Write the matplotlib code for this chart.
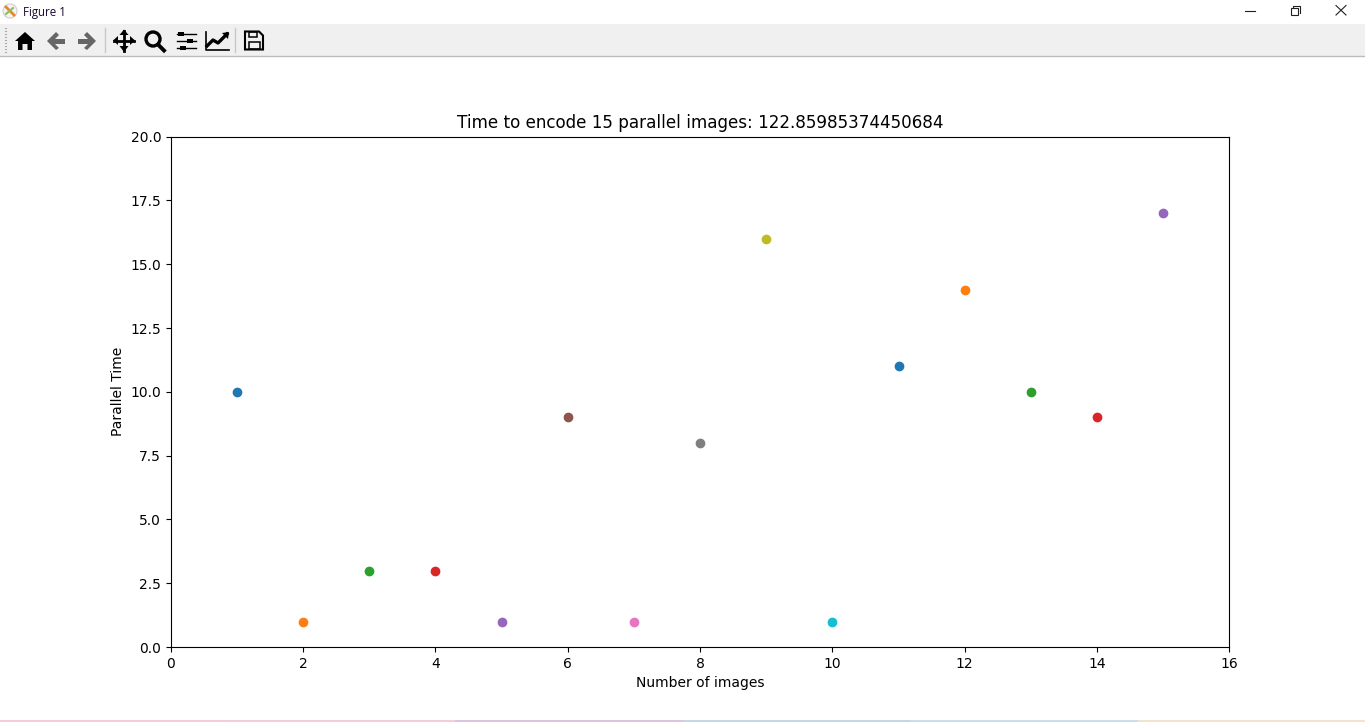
#!/usr/bin/python
"""Time per image scatter, inside the Tk-style plot window it was captured from."""

import matplotlib
matplotlib.use("Agg")
from matplotlib import pyplot as plt
from matplotlib.patches import Circle, Polygon, Rectangle

# Number of images and parallel time of each one
images = [1, 2, 3, 4, 5, 6, 7, 8, 9, 10, 11, 12, 13, 14, 15]
parallel_time = [10, 1, 3, 3, 1, 9, 1, 8, 16, 1, 11, 14, 10, 9, 17]
total_time = 122.85985374450684

x_ticks = [0, 2, 4, 6, 8, 10, 12, 14, 16]
y_ticks = [0.0, 2.5, 5.0, 7.5, 10.0, 12.5, 15.0, 17.5, 20.0]

WIDTH = 1365
HEIGHT = 722
DARK = "#000000"
GREY = "#666666"


def _draw_toolbar(chrome):
    """Draw the window title bar and the toolbar icons, in pixel coordinates."""
    chrome.add_patch(Rectangle((0, 24), WIDTH, 32, color="#f0f0f0", lw=0))
    chrome.plot([0, WIDTH], [55.9, 55.9], color="#bdbdbd", lw=1)
    chrome.text(23, 12.5, "Figure 1", fontsize=8.3, va="center", color="#1a0a33",
                family="Open Sans")

    # window logo
    chrome.add_patch(Circle((10, 11), 7, fc="#f4f4f4", ec="#cfcfcf", lw=0.8))
    chrome.plot([6, 14], [7, 15], color="#e8862a", lw=2)
    chrome.plot([6, 13], [14, 8], color="#8fbf5a", lw=1.5)

    # grip and separators
    for y in range(28, 54, 3):
        chrome.plot([4.5, 5.5], [y, y], color="#a8a8a8", lw=0.8)
    for x in (105.0, 235.0):
        chrome.plot([x, x], [28, 52], color="#c8c8c8", lw=1)

    # home
    chrome.add_patch(Polygon([(15, 41), (25, 32), (35, 41), (32, 41), (32, 50),
                              (27.5, 50), (27.5, 44), (22.5, 44), (22.5, 50),
                              (18, 50), (18, 41)], color=DARK, lw=0))

    # back and forward
    chrome.add_patch(Polygon([(47, 41), (56, 32), (59, 35), (55, 39), (65, 39),
                              (65, 44), (55, 44), (59, 48), (56, 50)],
                             color=GREY, lw=0))
    chrome.add_patch(Polygon([(96, 41), (87, 32), (84, 35), (88, 39), (78, 39),
                              (78, 44), (88, 44), (84, 48), (87, 50)],
                             color=GREY, lw=0))

    # pan
    chrome.plot([114, 134], [40.5, 40.5], color=DARK, lw=2)
    chrome.plot([124, 124], [31, 51], color=DARK, lw=2)
    for tip in ([(113, 40.5), (118, 36), (118, 45)], [(135, 40.5), (130, 36), (130, 45)],
                [(124, 29.5), (119.5, 35), (128.5, 35)], [(124, 52), (119.5, 46), (128.5, 46)]):
        chrome.add_patch(Polygon(tip, color=DARK, lw=0))

    # zoom
    chrome.add_patch(Circle((153, 39), 7, fc="none", ec=DARK, lw=2.4))
    chrome.plot([158, 164], [44.5, 50.5], color=DARK, lw=2.8)

    # subplots sliders
    for y, knob in ((33.5, 181), (40.5, 190), (47.5, 183)):
        chrome.plot([177, 196], [y, y], color=DARK, lw=1.0)
        chrome.add_patch(Rectangle((knob - 3, y - 2), 6, 4, color=DARK, lw=0))

    # edit axes
    chrome.plot([206, 206, 229], [32, 49.5, 49.5], color=DARK, lw=1.2)
    chrome.plot([207, 213, 218, 227], [46, 40, 43, 34], color=DARK, lw=2.4)
    chrome.add_patch(Polygon([(222, 33), (229, 32), (228, 39)], color=DARK, lw=0))

    # save
    chrome.add_patch(Polygon([(245, 31.5), (259, 31.5), (263, 35.5), (263, 49.5), (245, 49.5)],
                             fc="none", ec=DARK, lw=1.5))
    chrome.add_patch(Rectangle((249, 32), 8, 5, fc="none", ec=DARK, lw=1.1))
    chrome.add_patch(Rectangle((248.5, 42), 11, 7, fc="none", ec=DARK, lw=1.1))

    # minimize, restore, close
    chrome.plot([1245, 1255], [10.5, 10.5], color="#202020", lw=0.8)
    chrome.add_patch(Rectangle((1290.5, 7.5), 7, 7, fc="none", ec="#202020", lw=0.8))
    chrome.plot([1292.5, 1292.5, 1299.5, 1299.5], [7.5, 5.5, 5.5, 12.5], color="#202020", lw=0.8)
    chrome.plot([1336, 1346], [5.5, 15], color="#202020", lw=0.8)
    chrome.plot([1346, 1336], [5.5, 15], color="#202020", lw=0.8)

    # desktop showing through at the bottom edge of the window
    colors = ["#f6cdd6", "#f3cdd8", "#dcc6de", "#c6d6e4", "#cbdcea", "#f3e2cf"]
    step = WIDTH / float(len(colors))
    for i, color in enumerate(colors):
        chrome.add_patch(Rectangle((i * step, 720), step + 1, 2, color=color, lw=0))


def main():
    fig = plt.figure(figsize=(WIDTH / 100.0, HEIGHT / 100.0), dpi=100)

    chrome = fig.add_axes([0, 0, 1, 1])
    chrome.set_xlim(0, WIDTH)
    chrome.set_ylim(HEIGHT, 0)
    chrome.axis("off")
    _draw_toolbar(chrome)

    # Fractions of a pixel so the points round the same way as the capture
    axes = fig.add_axes([170.85 / WIDTH, 1 - 647.1 / HEIGHT,
                         1058.5 / WIDTH, 510.5 / HEIGHT])
    # One call per image, so the colours walk through the default cycle
    for image, seconds in zip(images, parallel_time):
        axes.scatter(image, seconds)

    axes.set_xlim(x_ticks[0], x_ticks[-1])
    axes.set_ylim(y_ticks[0], y_ticks[-1])
    axes.set_xticks(x_ticks)
    axes.set_yticks(y_ticks)
    axes.set_xlabel("Number of images")
    axes.set_ylabel("Parallel Time")
    axes.set_title("Time to encode %d parallel images: %s" % (len(images), total_time),
                   fontsize=12.07)

    plt.savefig("out.png", dpi=100)


if __name__ == '__main__':
    main()
